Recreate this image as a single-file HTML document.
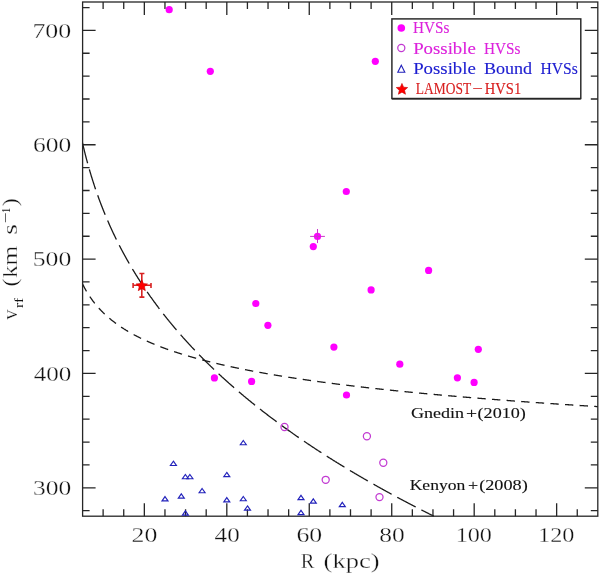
<!DOCTYPE html><html><head><meta charset="utf-8"><title>plot</title><style>html,body{margin:0;padding:0;background:#fff;}svg{display:block;}text{font-family:"Liberation Serif",serif;}</style></head><body>
<svg width="600" height="573" viewBox="0 0 600 573">
<rect width="600" height="573" fill="#fff"/>
<polyline points="82.50,142.91 82.84,144.40 83.19,145.87 83.53,147.33 83.88,148.76 84.22,150.18 84.56,151.57 84.91,152.96 85.25,154.32 85.59,155.67 85.94,157.00 86.28,158.31 86.63,159.61 86.97,160.90 87.31,162.17 87.66,163.43 88.00,164.67 88.34,165.91 88.69,167.12 89.03,168.33 89.38,169.52 89.72,170.71 90.06,171.88 90.41,173.03 90.75,174.18 91.10,175.32 91.44,176.44 91.78,177.56 92.13,178.66 92.47,179.76 92.81,180.85 93.16,181.92 93.50,182.99 93.85,184.05 94.19,185.09 94.53,186.13 94.88,187.17 95.22,188.19 95.56,189.20 95.91,190.21 96.25,191.21 96.60,192.20 96.94,193.18 97.28,194.16 97.63,195.13 97.97,196.09 98.32,197.04 98.66,197.99 99.00,198.93 99.35,199.86 99.69,200.79 100.03,201.70 100.38,202.62 100.72,203.53 101.07,204.43 101.41,205.32 101.75,206.21 102.10,207.09 102.44,207.97 102.78,208.84 103.13,209.71 103.47,210.57 103.82,211.42 104.16,212.27 104.50,213.11 104.85,213.95 105.19,214.79 105.54,215.61 105.88,216.44 106.22,217.26 106.57,218.07 106.91,218.88 107.25,219.68 107.60,220.48 107.94,221.28 108.29,222.07 108.63,222.85 108.97,223.63 109.32,224.41 109.66,225.18 110.01,225.95 110.35,226.72 110.69,227.48 111.04,228.23 111.38,228.99 111.72,229.73 112.07,230.48 112.41,231.22 112.76,231.96 113.10,232.69 113.44,233.42 113.79,234.14 114.13,234.87 114.47,235.58 114.82,236.30 115.16,237.01 115.51,237.72 115.85,238.42 116.19,239.12 116.54,239.82 116.88,240.51 117.23,241.20 117.57,241.89 117.91,242.58 118.26,243.26 118.60,243.94 118.94,244.61 119.29,245.28 119.63,245.95 119.98,246.62 120.32,247.28 120.66,247.94 121.01,248.60 121.35,249.25 121.69,249.91 122.04,250.55 122.38,251.20 122.73,251.84 123.07,252.48 123.41,253.12 123.76,253.76 124.10,254.39 124.45,255.02 124.79,255.65 125.13,256.27 125.48,256.89 125.82,257.51 126.16,258.13 126.51,258.75 126.85,259.36 127.20,259.97 127.54,260.58 127.88,261.18 128.23,261.78 128.57,262.38 128.91,262.98 129.26,263.58 129.60,264.17 129.95,264.76 130.29,265.35 130.63,265.94 130.98,266.52 131.32,267.11 131.67,267.69 132.01,268.27 132.35,268.84 132.70,269.42 133.04,269.99 133.38,270.56 133.73,271.13 134.07,271.69 134.42,272.26 134.76,272.82 135.10,273.38 135.45,273.94 135.79,274.49 136.13,275.05 136.48,275.60 136.82,276.15 137.17,276.70 137.51,277.24 137.85,277.79 138.20,278.33 138.54,278.87 138.89,279.41 139.23,279.95 139.57,280.49 139.92,281.02 140.26,281.55 140.60,282.08 140.95,282.61 141.29,283.14 141.64,283.66 141.98,284.19 142.32,284.71 142.67,285.23 143.01,285.75 143.35,286.27 143.70,286.78 144.04,287.30 144.39,287.81 144.73,288.32 145.07,288.83 145.42,289.34 145.76,289.84 146.11,290.35 146.45,290.85 146.79,291.35 147.14,291.85 147.48,292.35 147.82,292.85 148.17,293.35 148.51,293.84 148.86,294.33 149.20,294.83 149.54,295.32 149.89,295.80 150.23,296.29 150.57,296.78 150.92,297.26 151.26,297.74 151.61,298.23 151.95,298.71 152.29,299.19 152.64,299.66 152.98,300.14 153.33,300.61 153.67,301.09 154.01,301.56 154.36,302.03 154.70,302.50 155.04,302.97 155.39,303.44 155.73,303.90 156.08,304.37 156.42,304.83 156.76,305.29 157.11,305.76 157.45,306.22 157.79,306.67 158.14,307.13 158.48,307.59 158.83,308.04 159.17,308.50 159.51,308.95 159.86,309.40 160.20,309.85 160.55,310.30 160.89,310.75 161.23,311.20 161.58,311.64 161.92,312.09 162.26,312.53 162.61,312.97 162.95,313.41 163.30,313.85 163.64,314.29 163.98,314.73 164.33,315.17 164.67,315.60 165.02,316.04 165.36,316.47 165.70,316.90 166.05,317.34 166.39,317.77 166.73,318.20 167.08,318.62 167.42,319.05 167.77,319.48 168.11,319.90 168.45,320.33 168.80,320.75 169.14,321.17 169.48,321.60 169.83,322.02 170.17,322.44 170.52,322.85 170.86,323.27 171.20,323.69 171.55,324.10 171.89,324.52 172.24,324.93 172.58,325.35 172.92,325.76 173.27,326.17 173.61,326.58 173.95,326.99 174.30,327.40 174.64,327.80 174.99,328.21 175.33,328.62 175.67,329.02 176.02,329.42 176.36,329.83 176.70,330.23 177.05,330.63 177.39,331.03 177.74,331.43 178.08,331.83 178.42,332.23 178.77,332.62 179.11,333.02 179.46,333.41 179.80,333.81 180.14,334.20 180.49,334.59 180.83,334.98 181.17,335.38 181.52,335.77 181.86,336.16 182.21,336.54 182.55,336.93 182.89,337.32 183.24,337.70 183.58,338.09 183.92,338.47 184.27,338.86 184.61,339.24 184.96,339.62 185.30,340.00 185.64,340.38 185.99,340.76 186.33,341.14 186.68,341.52 187.02,341.90 187.36,342.28 187.71,342.65 188.05,343.03 188.39,343.40 188.74,343.77 189.08,344.15 189.43,344.52 189.77,344.89 190.11,345.26 190.46,345.63 190.80,346.00 191.14,346.37 191.49,346.74 191.83,347.11 192.18,347.47 192.52,347.84 192.86,348.20 193.21,348.57 193.55,348.93 193.90,349.29 194.24,349.66 194.58,350.02 194.93,350.38 195.27,350.74 195.61,351.10 195.96,351.46 196.30,351.82 196.65,352.17 196.99,352.53 197.33,352.89 197.68,353.24 198.02,353.60 198.36,353.95 198.71,354.31 199.05,354.66 199.40,355.01 199.74,355.36 200.08,355.71 200.43,356.06 200.77,356.41 201.12,356.76 201.46,357.11 201.80,357.46 202.15,357.81 202.49,358.15 202.83,358.50 203.18,358.85 203.52,359.19 203.87,359.53 204.21,359.88 204.55,360.22 204.90,360.56 205.24,360.91 205.58,361.25 205.93,361.59 206.27,361.93 206.62,362.27 206.96,362.61 207.30,362.94 207.65,363.28 207.99,363.62 208.34,363.96 208.68,364.29 209.02,364.63 209.37,364.96 209.71,365.30 210.05,365.63 210.40,365.96 210.74,366.30 211.09,366.63 211.43,366.96 211.77,367.29 212.12,367.62 212.46,367.95 212.80,368.28 213.15,368.61 213.49,368.94 213.84,369.26 214.18,369.59 214.52,369.92 214.87,370.24 215.21,370.57 215.56,370.90 215.90,371.22 216.24,371.54 216.59,371.87 216.93,372.19 217.27,372.51 217.62,372.83 217.96,373.16 218.31,373.48 218.65,373.80 218.99,374.12 219.34,374.44 219.68,374.76 220.03,375.07 220.37,375.39 220.71,375.71 221.06,376.03 221.40,376.34 221.74,376.66 222.09,376.97 222.43,377.29 222.78,377.60 223.12,377.92 223.46,378.23 223.81,378.54 224.15,378.85 224.49,379.17 224.84,379.48 225.18,379.79 225.53,380.10 225.87,380.41 226.21,380.72 226.56,381.03 226.90,381.34 227.25,381.65 227.59,381.95 227.93,382.26 228.28,382.57 228.62,382.87 228.96,383.18 229.31,383.48 229.65,383.79 230.00,384.09 230.34,384.40 230.68,384.70 231.03,385.00 231.37,385.31 231.71,385.61 232.06,385.91 232.40,386.21 232.75,386.51 233.09,386.81 233.43,387.11 233.78,387.41 234.12,387.71 234.47,388.01 234.81,388.31 235.15,388.61 235.50,388.91 235.84,389.20 236.18,389.50 236.53,389.80 236.87,390.09 237.22,390.39 237.56,390.68 237.90,390.98 238.25,391.27 238.59,391.56 238.93,391.86 239.28,392.15 239.62,392.44 239.97,392.73 240.31,393.03 240.65,393.32 241.00,393.61 241.34,393.90 241.69,394.19 242.03,394.48 242.37,394.77 242.72,395.06 243.06,395.34 243.40,395.63 243.75,395.92 244.09,396.21 244.44,396.49 244.78,396.78 245.12,397.07 245.47,397.35 245.81,397.64 246.15,397.92 246.50,398.21 246.84,398.49 247.19,398.78 247.53,399.06 247.87,399.34 248.22,399.62 248.56,399.91 248.91,400.19 249.25,400.47 249.59,400.75 249.94,401.03 250.28,401.31 250.62,401.59 250.97,401.87 251.31,402.15 251.66,402.43 252.00,402.71 252.34,402.99 252.69,403.26 253.03,403.54 253.37,403.82 253.72,404.10 254.06,404.37 254.41,404.65 254.75,404.92 255.09,405.20 255.44,405.47 255.78,405.75 256.13,406.02 256.47,406.30 256.81,406.57 257.16,406.84 257.50,407.12 257.84,407.39 258.19,407.66 258.53,407.93 258.88,408.20 259.22,408.47 259.56,408.74 259.91,409.02 260.25,409.29 260.59,409.56 260.94,409.82 261.28,410.09 261.63,410.36 261.97,410.63 262.31,410.90 262.66,411.17 263.00,411.43 263.35,411.70 263.69,411.97 264.03,412.23 264.38,412.50 264.72,412.77 265.06,413.03 265.41,413.30 265.75,413.56 266.10,413.83 266.44,414.09 266.78,414.35 267.13,414.62 267.47,414.88 267.81,415.14 268.16,415.41 268.50,415.67 268.85,415.93 269.19,416.19 269.53,416.45 269.88,416.71 270.22,416.97 270.57,417.23 270.91,417.49 271.25,417.75 271.60,418.01 271.94,418.27 272.28,418.53 272.63,418.79 272.97,419.05 273.32,419.31 273.66,419.56 274.00,419.82 274.35,420.08 274.69,420.33 275.04,420.59 275.38,420.85 275.72,421.10 276.07,421.36 276.41,421.61 276.75,421.87 277.10,422.12 277.44,422.38 277.79,422.63 278.13,422.88 278.47,423.14 278.82,423.39 279.16,423.64 279.50,423.90 279.85,424.15 280.19,424.40 280.54,424.65 280.88,424.90 281.22,425.15 281.57,425.41 281.91,425.66 282.26,425.91 282.60,426.16 282.94,426.41 283.29,426.65 283.63,426.90 283.97,427.15 284.32,427.40 284.66,427.65 285.01,427.90 285.35,428.15 285.69,428.39 286.04,428.64 286.38,428.89 286.72,429.13 287.07,429.38 287.41,429.63 287.76,429.87 288.10,430.12 288.44,430.36 288.79,430.61 289.13,430.85 289.48,431.10 289.82,431.34 290.16,431.58 290.51,431.83 290.85,432.07 291.19,432.32 291.54,432.56 291.88,432.80 292.23,433.04 292.57,433.28 292.91,433.53 293.26,433.77 293.60,434.01 293.94,434.25 294.29,434.49 294.63,434.73 294.98,434.97 295.32,435.21 295.66,435.45 296.01,435.69 296.35,435.93 296.70,436.17 297.04,436.41 297.38,436.65 297.73,436.89 298.07,437.12 298.41,437.36 298.76,437.60 299.10,437.84 299.45,438.07 299.79,438.31 300.13,438.55 300.48,438.78 300.82,439.02 301.16,439.25 301.51,439.49 301.85,439.72 302.20,439.96 302.54,440.19 302.88,440.43 303.23,440.66 303.57,440.90 303.92,441.13 304.26,441.36 304.60,441.60 304.95,441.83 305.29,442.06 305.63,442.30 305.98,442.53 306.32,442.76 306.67,442.99 307.01,443.22 307.35,443.46 307.70,443.69 308.04,443.92 308.38,444.15 308.73,444.38 309.07,444.61 309.42,444.84 309.76,445.07 310.10,445.30 310.45,445.53 310.79,445.76 311.14,445.99 311.48,446.21 311.82,446.44 312.17,446.67 312.51,446.90 312.85,447.13 313.20,447.35 313.54,447.58 313.89,447.81 314.23,448.04 314.57,448.26 314.92,448.49 315.26,448.72 315.60,448.94 315.95,449.17 316.29,449.39 316.64,449.62 316.98,449.84 317.32,450.07 317.67,450.29 318.01,450.52 318.36,450.74 318.70,450.96 319.04,451.19 319.39,451.41 319.73,451.64 320.07,451.86 320.42,452.08 320.76,452.30 321.11,452.53 321.45,452.75 321.79,452.97 322.14,453.19 322.48,453.41 322.82,453.64 323.17,453.86 323.51,454.08 323.86,454.30 324.20,454.52 324.54,454.74 324.89,454.96 325.23,455.18 325.58,455.40 325.92,455.62 326.26,455.84 326.61,456.06 326.95,456.28 327.29,456.49 327.64,456.71 327.98,456.93 328.33,457.15 328.67,457.37 329.01,457.59 329.36,457.80 329.70,458.02 330.05,458.24 330.39,458.45 330.73,458.67 331.08,458.89 331.42,459.10 331.76,459.32 332.11,459.54 332.45,459.75 332.80,459.97 333.14,460.18 333.48,460.40 333.83,460.61 334.17,460.83 334.51,461.04 334.86,461.25 335.20,461.47 335.55,461.68 335.89,461.90 336.23,462.11 336.58,462.32 336.92,462.54 337.27,462.75 337.61,462.96 337.95,463.17 338.30,463.39 338.64,463.60 338.98,463.81 339.33,464.02 339.67,464.23 340.02,464.45 340.36,464.66 340.70,464.87 341.05,465.08 341.39,465.29 341.73,465.50 342.08,465.71 342.42,465.92 342.77,466.13 343.11,466.34 343.45,466.55 343.80,466.76 344.14,466.97 344.49,467.18 344.83,467.39 345.17,467.59 345.52,467.80 345.86,468.01 346.20,468.22 346.55,468.43 346.89,468.63 347.24,468.84 347.58,469.05 347.92,469.26 348.27,469.46 348.61,469.67 348.95,469.88 349.30,470.08 349.64,470.29 349.99,470.50 350.33,470.70 350.67,470.91 351.02,471.11 351.36,471.32 351.71,471.52 352.05,471.73 352.39,471.93 352.74,472.14 353.08,472.34 353.42,472.55 353.77,472.75 354.11,472.95 354.46,473.16 354.80,473.36 355.14,473.57 355.49,473.77 355.83,473.97 356.17,474.17 356.52,474.38 356.86,474.58 357.21,474.78 357.55,474.98 357.89,475.19 358.24,475.39 358.58,475.59 358.93,475.79 359.27,475.99 359.61,476.19 359.96,476.40 360.30,476.60 360.64,476.80 360.99,477.00 361.33,477.20 361.68,477.40 362.02,477.60 362.36,477.80 362.71,478.00 363.05,478.20 363.39,478.40 363.74,478.60 364.08,478.80 364.43,478.99 364.77,479.19 365.11,479.39 365.46,479.59 365.80,479.79 366.15,479.99 366.49,480.18 366.83,480.38 367.18,480.58 367.52,480.78 367.86,480.97 368.21,481.17 368.55,481.37 368.90,481.56 369.24,481.76 369.58,481.96 369.93,482.15 370.27,482.35 370.61,482.55 370.96,482.74 371.30,482.94 371.65,483.13 371.99,483.33 372.33,483.52 372.68,483.72 373.02,483.91 373.37,484.11 373.71,484.30 374.05,484.50 374.40,484.69 374.74,484.89 375.08,485.08 375.43,485.27 375.77,485.47 376.12,485.66 376.46,485.85 376.80,486.05 377.15,486.24 377.49,486.43 377.83,486.63 378.18,486.82 378.52,487.01 378.87,487.20 379.21,487.40 379.55,487.59 379.90,487.78 380.24,487.97 380.59,488.16 380.93,488.35 381.27,488.55 381.62,488.74 381.96,488.93 382.30,489.12 382.65,489.31 382.99,489.50 383.34,489.69 383.68,489.88 384.02,490.07 384.37,490.26 384.71,490.45 385.06,490.64 385.40,490.83 385.74,491.02 386.09,491.21 386.43,491.40 386.77,491.58 387.12,491.77 387.46,491.96 387.81,492.15 388.15,492.34 388.49,492.53 388.84,492.71 389.18,492.90 389.52,493.09 389.87,493.28 390.21,493.47 390.56,493.65 390.90,493.84 391.24,494.03 391.59,494.21 391.93,494.40 392.28,494.59 392.62,494.77 392.96,494.96 393.31,495.15 393.65,495.33 393.99,495.52 394.34,495.70 394.68,495.89 395.03,496.07 395.37,496.26 395.71,496.44 396.06,496.63 396.40,496.81 396.74,497.00 397.09,497.18 397.43,497.37 397.78,497.55 398.12,497.74 398.46,497.92 398.81,498.11 399.15,498.29 399.50,498.47 399.84,498.66 400.18,498.84 400.53,499.02 400.87,499.21 401.21,499.39 401.56,499.57 401.90,499.75 402.25,499.94 402.59,500.12 402.93,500.30 403.28,500.48 403.62,500.67 403.96,500.85 404.31,501.03 404.65,501.21 405.00,501.39 405.34,501.57 405.68,501.76 406.03,501.94 406.37,502.12 406.72,502.30 407.06,502.48 407.40,502.66 407.75,502.84 408.09,503.02 408.43,503.20 408.78,503.38 409.12,503.56 409.47,503.74 409.81,503.92 410.15,504.10 410.50,504.28 410.84,504.46 411.18,504.64 411.53,504.82 411.87,505.00 412.22,505.18 412.56,505.35 412.90,505.53 413.25,505.71 413.59,505.89 413.94,506.07 414.28,506.25 414.62,506.42 414.97,506.60 415.31,506.78 415.65,506.96 416.00,507.13 416.34,507.31 416.69,507.49 417.03,507.67 417.37,507.84 417.72,508.02 418.06,508.20 418.40,508.37 418.75,508.55 419.09,508.73 419.44,508.90 419.78,509.08 420.12,509.25 420.47,509.43 420.81,509.60 421.16,509.78 421.50,509.96 421.84,510.13 422.19,510.31 422.53,510.48 422.87,510.66 423.22,510.83 423.56,511.01 423.91,511.18 424.25,511.36 424.59,511.53 424.94,511.70 425.28,511.88 425.62,512.05 425.97,512.23 426.31,512.40 426.66,512.57 427.00,512.75 427.34,512.92 427.69,513.09 428.03,513.27 428.38,513.44 428.72,513.61 429.06,513.79 429.41,513.96 429.75,514.13 430.09,514.30 430.44,514.48 430.78,514.65 431.13,514.82 431.47,514.99 431.81,515.16 432.16,515.34 432.50,515.51 432.84,515.68 433.19,515.85 433.53,516.02 433.88,516.19" fill="none" stroke="#1a1a1a" stroke-width="1.3" stroke-dasharray="20.9 6.324" stroke-dashoffset="-0.06"/>
<polyline points="82.50,283.84 82.84,284.54 83.19,285.23 83.53,285.91 83.88,286.58 84.22,287.23 84.56,287.88 84.91,288.51 85.25,289.14 85.59,289.75 85.94,290.36 86.28,290.95 86.63,291.54 86.97,292.12 87.31,292.69 87.66,293.25 88.00,293.81 88.34,294.35 88.69,294.89 89.03,295.42 89.38,295.95 89.72,296.47 90.06,296.98 90.41,297.48 90.75,297.98 91.10,298.47 91.44,298.95 91.78,299.43 92.13,299.91 92.47,300.37 92.81,300.83 93.16,301.29 93.50,301.74 93.85,302.19 94.19,302.63 94.53,303.06 94.88,303.50 95.22,303.92 95.56,304.34 95.91,304.76 96.25,305.17 96.60,305.58 96.94,305.98 97.28,306.38 97.63,306.78 97.97,307.17 98.32,307.56 98.66,307.94 99.00,308.32 99.35,308.69 99.69,309.07 100.03,309.43 100.38,309.80 100.72,310.16 101.07,310.52 101.41,310.87 101.75,311.22 102.10,311.57 102.44,311.92 102.78,312.26 103.13,312.60 103.47,312.93 103.82,313.27 104.16,313.60 104.50,313.92 104.85,314.25 105.19,314.57 105.54,314.89 105.88,315.20 106.22,315.52 106.57,315.83 106.91,316.14 107.25,316.44 107.60,316.74 107.94,317.04 108.29,317.34 108.63,317.64 108.97,317.93 109.32,318.22 109.66,318.51 110.01,318.80 110.35,319.08 110.69,319.37 111.04,319.65 111.38,319.93 111.72,320.20 112.07,320.48 112.41,320.75 112.76,321.02 113.10,321.29 113.44,321.55 113.79,321.82 114.13,322.08 114.47,322.34 114.82,322.60 115.16,322.86 115.51,323.11 115.85,323.36 116.19,323.62 116.54,323.87 116.88,324.12 117.23,324.36 117.57,324.61 117.91,324.85 118.26,325.09 118.60,325.33 118.94,325.57 119.29,325.81 119.63,326.04 119.98,326.28 120.32,326.51 120.66,326.74 121.01,326.97 121.35,327.20 121.69,327.43 122.04,327.65 122.38,327.88 122.73,328.10 123.07,328.32 123.41,328.54 123.76,328.76 124.10,328.98 124.45,329.19 124.79,329.41 125.13,329.62 125.48,329.83 125.82,330.05 126.16,330.26 126.51,330.46 126.85,330.67 127.20,330.88 127.54,331.08 127.88,331.29 128.23,331.49 128.57,331.69 128.91,331.89 129.26,332.09 129.60,332.29 129.95,332.49 130.29,332.68 130.63,332.88 130.98,333.07 131.32,333.27 131.67,333.46 132.01,333.65 132.35,333.84 132.70,334.03 133.04,334.22 133.38,334.40 133.73,334.59 134.07,334.78 134.42,334.96 134.76,335.14 135.10,335.33 135.45,335.51 135.79,335.69 136.13,335.87 136.48,336.05 136.82,336.22 137.17,336.40 137.51,336.58 137.85,336.75 138.20,336.93 138.54,337.10 138.89,337.27 139.23,337.45 139.57,337.62 139.92,337.79 140.26,337.96 140.60,338.13 140.95,338.29 141.29,338.46 141.64,338.63 141.98,338.79 142.32,338.96 142.67,339.12 143.01,339.29 143.35,339.45 143.70,339.61 144.04,339.77 144.39,339.93 144.73,340.09 145.07,340.25 145.42,340.41 145.76,340.57 146.11,340.72 146.45,340.88 146.79,341.03 147.14,341.19 147.48,341.34 147.82,341.50 148.17,341.65 148.51,341.80 148.86,341.95 149.20,342.10 149.54,342.25 149.89,342.40 150.23,342.55 150.57,342.70 150.92,342.85 151.26,343.00 151.61,343.14 151.95,343.29 152.29,343.43 152.64,343.58 152.98,343.72 153.33,343.87 153.67,344.01 154.01,344.15 154.36,344.29 154.70,344.43 155.04,344.58 155.39,344.72 155.73,344.85 156.08,344.99 156.42,345.13 156.76,345.27 157.11,345.41 157.45,345.54 157.79,345.68 158.14,345.82 158.48,345.95 158.83,346.09 159.17,346.22 159.51,346.35 159.86,346.49 160.20,346.62 160.55,346.75 160.89,346.88 161.23,347.02 161.58,347.15 161.92,347.28 162.26,347.41 162.61,347.54 162.95,347.66 163.30,347.79 163.64,347.92 163.98,348.05 164.33,348.18 164.67,348.30 165.02,348.43 165.36,348.55 165.70,348.68 166.05,348.80 166.39,348.93 166.73,349.05 167.08,349.17 167.42,349.30 167.77,349.42 168.11,349.54 168.45,349.66 168.80,349.79 169.14,349.91 169.48,350.03 169.83,350.15 170.17,350.27 170.52,350.39 170.86,350.50 171.20,350.62 171.55,350.74 171.89,350.86 172.24,350.97 172.58,351.09 172.92,351.21 173.27,351.32 173.61,351.44 173.95,351.55 174.30,351.67 174.64,351.78 174.99,351.90 175.33,352.01 175.67,352.13 176.02,352.24 176.36,352.35 176.70,352.46 177.05,352.58 177.39,352.69 177.74,352.80 178.08,352.91 178.42,353.02 178.77,353.13 179.11,353.24 179.46,353.35 179.80,353.46 180.14,353.57 180.49,353.67 180.83,353.78 181.17,353.89 181.52,354.00 181.86,354.10 182.21,354.21 182.55,354.32 182.89,354.42 183.24,354.53 183.58,354.63 183.92,354.74 184.27,354.84 184.61,354.95 184.96,355.05 185.30,355.16 185.64,355.26 185.99,355.36 186.33,355.47 186.68,355.57 187.02,355.67 187.36,355.77 187.71,355.88 188.05,355.98 188.39,356.08 188.74,356.18 189.08,356.28 189.43,356.38 189.77,356.48 190.11,356.58 190.46,356.68 190.80,356.78 191.14,356.88 191.49,356.97 191.83,357.07 192.18,357.17 192.52,357.27 192.86,357.37 193.21,357.46 193.55,357.56 193.90,357.66 194.24,357.75 194.58,357.85 194.93,357.94 195.27,358.04 195.61,358.13 195.96,358.23 196.30,358.32 196.65,358.42 196.99,358.51 197.33,358.61 197.68,358.70 198.02,358.79 198.36,358.89 198.71,358.98 199.05,359.07 199.40,359.16 199.74,359.26 200.08,359.35 200.43,359.44 200.77,359.53 201.12,359.62 201.46,359.71 201.80,359.80 202.15,359.89 202.49,359.98 202.83,360.07 203.18,360.16 203.52,360.25 203.87,360.34 204.21,360.43 204.55,360.52 204.90,360.61 205.24,360.70 205.58,360.79 205.93,360.87 206.27,360.96 206.62,361.05 206.96,361.14 207.30,361.22 207.65,361.31 207.99,361.40 208.34,361.48 208.68,361.57 209.02,361.65 209.37,361.74 209.71,361.83 210.05,361.91 210.40,362.00 210.74,362.08 211.09,362.16 211.43,362.25 211.77,362.33 212.12,362.42 212.46,362.50 212.80,362.58 213.15,362.67 213.49,362.75 213.84,362.83 214.18,362.92 214.52,363.00 214.87,363.08 215.21,363.16 215.56,363.25 215.90,363.33 216.24,363.41 216.59,363.49 216.93,363.57 217.27,363.65 217.62,363.73 217.96,363.81 218.31,363.89 218.65,363.97 218.99,364.05 219.34,364.13 219.68,364.21 220.03,364.29 220.37,364.37 220.71,364.45 221.06,364.53 221.40,364.61 221.74,364.69 222.09,364.76 222.43,364.84 222.78,364.92 223.12,365.00 223.46,365.08 223.81,365.15 224.15,365.23 224.49,365.31 224.84,365.38 225.18,365.46 225.53,365.54 225.87,365.61 226.21,365.69 226.56,365.77 226.90,365.84 227.25,365.92 227.59,365.99 227.93,366.07 228.28,366.14 228.62,366.22 228.96,366.29 229.31,366.37 229.65,366.44 230.00,366.52 230.34,366.59 230.68,366.67 231.03,366.74 231.37,366.81 231.71,366.89 232.06,366.96 232.40,367.03 232.75,367.11 233.09,367.18 233.43,367.25 233.78,367.32 234.12,367.40 234.47,367.47 234.81,367.54 235.15,367.61 235.50,367.68 235.84,367.76 236.18,367.83 236.53,367.90 236.87,367.97 237.22,368.04 237.56,368.11 237.90,368.18 238.25,368.25 238.59,368.32 238.93,368.39 239.28,368.46 239.62,368.53 239.97,368.60 240.31,368.67 240.65,368.74 241.00,368.81 241.34,368.88 241.69,368.95 242.03,369.02 242.37,369.09 242.72,369.16 243.06,369.23 243.40,369.29 243.75,369.36 244.09,369.43 244.44,369.50 244.78,369.57 245.12,369.63 245.47,369.70 245.81,369.77 246.15,369.84 246.50,369.90 246.84,369.97 247.19,370.04 247.53,370.10 247.87,370.17 248.22,370.24 248.56,370.30 248.91,370.37 249.25,370.44 249.59,370.50 249.94,370.57 250.28,370.63 250.62,370.70 250.97,370.76 251.31,370.83 251.66,370.89 252.00,370.96 252.34,371.02 252.69,371.09 253.03,371.15 253.37,371.22 253.72,371.28 254.06,371.35 254.41,371.41 254.75,371.48 255.09,371.54 255.44,371.60 255.78,371.67 256.13,371.73 256.47,371.79 256.81,371.86 257.16,371.92 257.50,371.98 257.84,372.05 258.19,372.11 258.53,372.17 258.88,372.23 259.22,372.30 259.56,372.36 259.91,372.42 260.25,372.48 260.59,372.55 260.94,372.61 261.28,372.67 261.63,372.73 261.97,372.79 262.31,372.85 262.66,372.92 263.00,372.98 263.35,373.04 263.69,373.10 264.03,373.16 264.38,373.22 264.72,373.28 265.06,373.34 265.41,373.40 265.75,373.46 266.10,373.52 266.44,373.58 266.78,373.64 267.13,373.70 267.47,373.76 267.81,373.82 268.16,373.88 268.50,373.94 268.85,374.00 269.19,374.06 269.53,374.12 269.88,374.18 270.22,374.24 270.57,374.30 270.91,374.35 271.25,374.41 271.60,374.47 271.94,374.53 272.28,374.59 272.63,374.65 272.97,374.70 273.32,374.76 273.66,374.82 274.00,374.88 274.35,374.94 274.69,374.99 275.04,375.05 275.38,375.11 275.72,375.17 276.07,375.22 276.41,375.28 276.75,375.34 277.10,375.39 277.44,375.45 277.79,375.51 278.13,375.56 278.47,375.62 278.82,375.68 279.16,375.73 279.50,375.79 279.85,375.84 280.19,375.90 280.54,375.96 280.88,376.01 281.22,376.07 281.57,376.12 281.91,376.18 282.26,376.23 282.60,376.29 282.94,376.35 283.29,376.40 283.63,376.46 283.97,376.51 284.32,376.57 284.66,376.62 285.01,376.67 285.35,376.73 285.69,376.78 286.04,376.84 286.38,376.89 286.72,376.95 287.07,377.00 287.41,377.06 287.76,377.11 288.10,377.16 288.44,377.22 288.79,377.27 289.13,377.32 289.48,377.38 289.82,377.43 290.16,377.48 290.51,377.54 290.85,377.59 291.19,377.64 291.54,377.70 291.88,377.75 292.23,377.80 292.57,377.86 292.91,377.91 293.26,377.96 293.60,378.01 293.94,378.07 294.29,378.12 294.63,378.17 294.98,378.22 295.32,378.27 295.66,378.33 296.01,378.38 296.35,378.43 296.70,378.48 297.04,378.53 297.38,378.59 297.73,378.64 298.07,378.69 298.41,378.74 298.76,378.79 299.10,378.84 299.45,378.89 299.79,378.94 300.13,378.99 300.48,379.05 300.82,379.10 301.16,379.15 301.51,379.20 301.85,379.25 302.20,379.30 302.54,379.35 302.88,379.40 303.23,379.45 303.57,379.50 303.92,379.55 304.26,379.60 304.60,379.65 304.95,379.70 305.29,379.75 305.63,379.80 305.98,379.85 306.32,379.90 306.67,379.95 307.01,380.00 307.35,380.05 307.70,380.10 308.04,380.14 308.38,380.19 308.73,380.24 309.07,380.29 309.42,380.34 309.76,380.39 310.10,380.44 310.45,380.49 310.79,380.54 311.14,380.58 311.48,380.63 311.82,380.68 312.17,380.73 312.51,380.78 312.85,380.83 313.20,380.87 313.54,380.92 313.89,380.97 314.23,381.02 314.57,381.07 314.92,381.11 315.26,381.16 315.60,381.21 315.95,381.26 316.29,381.30 316.64,381.35 316.98,381.40 317.32,381.44 317.67,381.49 318.01,381.54 318.36,381.59 318.70,381.63 319.04,381.68 319.39,381.73 319.73,381.77 320.07,381.82 320.42,381.87 320.76,381.91 321.11,381.96 321.45,382.01 321.79,382.05 322.14,382.10 322.48,382.15 322.82,382.19 323.17,382.24 323.51,382.28 323.86,382.33 324.20,382.38 324.54,382.42 324.89,382.47 325.23,382.51 325.58,382.56 325.92,382.60 326.26,382.65 326.61,382.69 326.95,382.74 327.29,382.79 327.64,382.83 327.98,382.88 328.33,382.92 328.67,382.97 329.01,383.01 329.36,383.06 329.70,383.10 330.05,383.15 330.39,383.19 330.73,383.23 331.08,383.28 331.42,383.32 331.76,383.37 332.11,383.41 332.45,383.46 332.80,383.50 333.14,383.55 333.48,383.59 333.83,383.63 334.17,383.68 334.51,383.72 334.86,383.77 335.20,383.81 335.55,383.85 335.89,383.90 336.23,383.94 336.58,383.99 336.92,384.03 337.27,384.07 337.61,384.12 337.95,384.16 338.30,384.20 338.64,384.25 338.98,384.29 339.33,384.33 339.67,384.38 340.02,384.42 340.36,384.46 340.70,384.50 341.05,384.55 341.39,384.59 341.73,384.63 342.08,384.68 342.42,384.72 342.77,384.76 343.11,384.80 343.45,384.85 343.80,384.89 344.14,384.93 344.49,384.97 344.83,385.02 345.17,385.06 345.52,385.10 345.86,385.14 346.20,385.18 346.55,385.23 346.89,385.27 347.24,385.31 347.58,385.35 347.92,385.39 348.27,385.43 348.61,385.48 348.95,385.52 349.30,385.56 349.64,385.60 349.99,385.64 350.33,385.68 350.67,385.73 351.02,385.77 351.36,385.81 351.71,385.85 352.05,385.89 352.39,385.93 352.74,385.97 353.08,386.01 353.42,386.05 353.77,386.10 354.11,386.14 354.46,386.18 354.80,386.22 355.14,386.26 355.49,386.30 355.83,386.34 356.17,386.38 356.52,386.42 356.86,386.46 357.21,386.50 357.55,386.54 357.89,386.58 358.24,386.62 358.58,386.66 358.93,386.70 359.27,386.74 359.61,386.78 359.96,386.82 360.30,386.86 360.64,386.90 360.99,386.94 361.33,386.98 361.68,387.02 362.02,387.06 362.36,387.10 362.71,387.14 363.05,387.18 363.39,387.22 363.74,387.26 364.08,387.30 364.43,387.34 364.77,387.38 365.11,387.42 365.46,387.45 365.80,387.49 366.15,387.53 366.49,387.57 366.83,387.61 367.18,387.65 367.52,387.69 367.86,387.73 368.21,387.77 368.55,387.80 368.90,387.84 369.24,387.88 369.58,387.92 369.93,387.96 370.27,388.00 370.61,388.04 370.96,388.07 371.30,388.11 371.65,388.15 371.99,388.19 372.33,388.23 372.68,388.27 373.02,388.30 373.37,388.34 373.71,388.38 374.05,388.42 374.40,388.46 374.74,388.49 375.08,388.53 375.43,388.57 375.77,388.61 376.12,388.64 376.46,388.68 376.80,388.72 377.15,388.76 377.49,388.80 377.83,388.83 378.18,388.87 378.52,388.91 378.87,388.94 379.21,388.98 379.55,389.02 379.90,389.06 380.24,389.09 380.59,389.13 380.93,389.17 381.27,389.21 381.62,389.24 381.96,389.28 382.30,389.32 382.65,389.35 382.99,389.39 383.34,389.43 383.68,389.46 384.02,389.50 384.37,389.54 384.71,389.57 385.06,389.61 385.40,389.65 385.74,389.68 386.09,389.72 386.43,389.76 386.77,389.79 387.12,389.83 387.46,389.86 387.81,389.90 388.15,389.94 388.49,389.97 388.84,390.01 389.18,390.05 389.52,390.08 389.87,390.12 390.21,390.15 390.56,390.19 390.90,390.23 391.24,390.26 391.59,390.30 391.93,390.33 392.28,390.37 392.62,390.40 392.96,390.44 393.31,390.48 393.65,390.51 393.99,390.55 394.34,390.58 394.68,390.62 395.03,390.65 395.37,390.69 395.71,390.72 396.06,390.76 396.40,390.79 396.74,390.83 397.09,390.86 397.43,390.90 397.78,390.93 398.12,390.97 398.46,391.00 398.81,391.04 399.15,391.07 399.50,391.11 399.84,391.14 400.18,391.18 400.53,391.21 400.87,391.25 401.21,391.28 401.56,391.32 401.90,391.35 402.25,391.39 402.59,391.42 402.93,391.46 403.28,391.49 403.62,391.53 403.96,391.56 404.31,391.59 404.65,391.63 405.00,391.66 405.34,391.70 405.68,391.73 406.03,391.77 406.37,391.80 406.72,391.83 407.06,391.87 407.40,391.90 407.75,391.94 408.09,391.97 408.43,392.00 408.78,392.04 409.12,392.07 409.47,392.10 409.81,392.14 410.15,392.17 410.50,392.21 410.84,392.24 411.18,392.27 411.53,392.31 411.87,392.34 412.22,392.37 412.56,392.41 412.90,392.44 413.25,392.47 413.59,392.51 413.94,392.54 414.28,392.57 414.62,392.61 414.97,392.64 415.31,392.67 415.65,392.71 416.00,392.74 416.34,392.77 416.69,392.81 417.03,392.84 417.37,392.87 417.72,392.91 418.06,392.94 418.40,392.97 418.75,393.00 419.09,393.04 419.44,393.07 419.78,393.10 420.12,393.14 420.47,393.17 420.81,393.20 421.16,393.23 421.50,393.27 421.84,393.30 422.19,393.33 422.53,393.36 422.87,393.40 423.22,393.43 423.56,393.46 423.91,393.49 424.25,393.53 424.59,393.56 424.94,393.59 425.28,393.62 425.62,393.65 425.97,393.69 426.31,393.72 426.66,393.75 427.00,393.78 427.34,393.81 427.69,393.85 428.03,393.88 428.38,393.91 428.72,393.94 429.06,393.97 429.41,394.01 429.75,394.04 430.09,394.07 430.44,394.10 430.78,394.13 431.13,394.16 431.47,394.20 431.81,394.23 432.16,394.26 432.50,394.29 432.84,394.32 433.19,394.35 433.53,394.38 433.88,394.42 434.22,394.45 434.56,394.48 434.91,394.51 435.25,394.54 435.60,394.57 435.94,394.60 436.28,394.64 436.63,394.67 436.97,394.70 437.31,394.73 437.66,394.76 438.00,394.79 438.35,394.82 438.69,394.85 439.03,394.88 439.38,394.91 439.72,394.95 440.07,394.98 440.41,395.01 440.75,395.04 441.10,395.07 441.44,395.10 441.78,395.13 442.13,395.16 442.47,395.19 442.82,395.22 443.16,395.25 443.50,395.28 443.85,395.31 444.19,395.34 444.53,395.37 444.88,395.40 445.22,395.44 445.57,395.47 445.91,395.50 446.25,395.53 446.60,395.56 446.94,395.59 447.29,395.62 447.63,395.65 447.97,395.68 448.32,395.71 448.66,395.74 449.00,395.77 449.35,395.80 449.69,395.83 450.04,395.86 450.38,395.89 450.72,395.92 451.07,395.95 451.41,395.98 451.75,396.01 452.10,396.04 452.44,396.07 452.79,396.10 453.13,396.13 453.47,396.16 453.82,396.19 454.16,396.22 454.51,396.24 454.85,396.27 455.19,396.30 455.54,396.33 455.88,396.36 456.22,396.39 456.57,396.42 456.91,396.45 457.26,396.48 457.60,396.51 457.94,396.54 458.29,396.57 458.63,396.60 458.97,396.63 459.32,396.66 459.66,396.69 460.01,396.71 460.35,396.74 460.69,396.77 461.04,396.80 461.38,396.83 461.73,396.86 462.07,396.89 462.41,396.92 462.76,396.95 463.10,396.98 463.44,397.00 463.79,397.03 464.13,397.06 464.48,397.09 464.82,397.12 465.16,397.15 465.51,397.18 465.85,397.21 466.19,397.23 466.54,397.26 466.88,397.29 467.23,397.32 467.57,397.35 467.91,397.38 468.26,397.41 468.60,397.43 468.95,397.46 469.29,397.49 469.63,397.52 469.98,397.55 470.32,397.58 470.66,397.61 471.01,397.63 471.35,397.66 471.70,397.69 472.04,397.72 472.38,397.75 472.73,397.77 473.07,397.80 473.41,397.83 473.76,397.86 474.10,397.89 474.45,397.92 474.79,397.94 475.13,397.97 475.48,398.00 475.82,398.03 476.17,398.06 476.51,398.08 476.85,398.11 477.20,398.14 477.54,398.17 477.88,398.19 478.23,398.22 478.57,398.25 478.92,398.28 479.26,398.31 479.60,398.33 479.95,398.36 480.29,398.39 480.63,398.42 480.98,398.44 481.32,398.47 481.67,398.50 482.01,398.53 482.35,398.55 482.70,398.58 483.04,398.61 483.39,398.64 483.73,398.66 484.07,398.69 484.42,398.72 484.76,398.75 485.10,398.77 485.45,398.80 485.79,398.83 486.14,398.85 486.48,398.88 486.82,398.91 487.17,398.94 487.51,398.96 487.85,398.99 488.20,399.02 488.54,399.04 488.89,399.07 489.23,399.10 489.57,399.13 489.92,399.15 490.26,399.18 490.61,399.21 490.95,399.23 491.29,399.26 491.64,399.29 491.98,399.31 492.32,399.34 492.67,399.37 493.01,399.39 493.36,399.42 493.70,399.45 494.04,399.47 494.39,399.50 494.73,399.53 495.08,399.55 495.42,399.58 495.76,399.61 496.11,399.63 496.45,399.66 496.79,399.69 497.14,399.71 497.48,399.74 497.83,399.77 498.17,399.79 498.51,399.82 498.86,399.84 499.20,399.87 499.54,399.90 499.89,399.92 500.23,399.95 500.58,399.98 500.92,400.00 501.26,400.03 501.61,400.05 501.95,400.08 502.30,400.11 502.64,400.13 502.98,400.16 503.33,400.19 503.67,400.21 504.01,400.24 504.36,400.26 504.70,400.29 505.05,400.32 505.39,400.34 505.73,400.37 506.08,400.39 506.42,400.42 506.76,400.44 507.11,400.47 507.45,400.50 507.80,400.52 508.14,400.55 508.48,400.57 508.83,400.60 509.17,400.62 509.52,400.65 509.86,400.68 510.20,400.70 510.55,400.73 510.89,400.75 511.23,400.78 511.58,400.80 511.92,400.83 512.27,400.86 512.61,400.88 512.95,400.91 513.30,400.93 513.64,400.96 513.98,400.98 514.33,401.01 514.67,401.03 515.02,401.06 515.36,401.08 515.70,401.11 516.05,401.13 516.39,401.16 516.74,401.18 517.08,401.21 517.42,401.24 517.77,401.26 518.11,401.29 518.45,401.31 518.80,401.34 519.14,401.36 519.49,401.39 519.83,401.41 520.17,401.44 520.52,401.46 520.86,401.49 521.20,401.51 521.55,401.54 521.89,401.56 522.24,401.59 522.58,401.61 522.92,401.64 523.27,401.66 523.61,401.68 523.96,401.71 524.30,401.73 524.64,401.76 524.99,401.78 525.33,401.81 525.67,401.83 526.02,401.86 526.36,401.88 526.71,401.91 527.05,401.93 527.39,401.96 527.74,401.98 528.08,402.01 528.42,402.03 528.77,402.05 529.11,402.08 529.46,402.10 529.80,402.13 530.14,402.15 530.49,402.18 530.83,402.20 531.18,402.23 531.52,402.25 531.86,402.27 532.21,402.30 532.55,402.32 532.89,402.35 533.24,402.37 533.58,402.40 533.93,402.42 534.27,402.44 534.61,402.47 534.96,402.49 535.30,402.52 535.64,402.54 535.99,402.57 536.33,402.59 536.68,402.61 537.02,402.64 537.36,402.66 537.71,402.69 538.05,402.71 538.40,402.73 538.74,402.76 539.08,402.78 539.43,402.81 539.77,402.83 540.11,402.85 540.46,402.88 540.80,402.90 541.15,402.92 541.49,402.95 541.83,402.97 542.18,403.00 542.52,403.02 542.86,403.04 543.21,403.07 543.55,403.09 543.90,403.11 544.24,403.14 544.58,403.16 544.93,403.19 545.27,403.21 545.62,403.23 545.96,403.26 546.30,403.28 546.65,403.30 546.99,403.33 547.33,403.35 547.68,403.37 548.02,403.40 548.37,403.42 548.71,403.44 549.05,403.47 549.40,403.49 549.74,403.51 550.09,403.54 550.43,403.56 550.77,403.58 551.12,403.61 551.46,403.63 551.80,403.65 552.15,403.68 552.49,403.70 552.84,403.72 553.18,403.75 553.52,403.77 553.87,403.79 554.21,403.82 554.55,403.84 554.90,403.86 555.24,403.89 555.59,403.91 555.93,403.93 556.27,403.96 556.62,403.98 556.96,404.00 557.31,404.02 557.65,404.05 557.99,404.07 558.34,404.09 558.68,404.12 559.02,404.14 559.37,404.16 559.71,404.18 560.06,404.21 560.40,404.23 560.74,404.25 561.09,404.28 561.43,404.30 561.77,404.32 562.12,404.34 562.46,404.37 562.81,404.39 563.15,404.41 563.49,404.43 563.84,404.46 564.18,404.48 564.53,404.50 564.87,404.53 565.21,404.55 565.56,404.57 565.90,404.59 566.24,404.62 566.59,404.64 566.93,404.66 567.28,404.68 567.62,404.71 567.96,404.73 568.31,404.75 568.65,404.77 568.99,404.80 569.34,404.82 569.68,404.84 570.03,404.86 570.37,404.88 570.71,404.91 571.06,404.93 571.40,404.95 571.75,404.97 572.09,405.00 572.43,405.02 572.78,405.04 573.12,405.06 573.46,405.09 573.81,405.11 574.15,405.13 574.50,405.15 574.84,405.17 575.18,405.20 575.53,405.22 575.87,405.24 576.21,405.26 576.56,405.28 576.90,405.31 577.25,405.33 577.59,405.35 577.93,405.37 578.28,405.39 578.62,405.42 578.97,405.44 579.31,405.46 579.65,405.48 580.00,405.50 580.34,405.53 580.68,405.55 581.03,405.57 581.37,405.59 581.72,405.61 582.06,405.63 582.40,405.66 582.75,405.68 583.09,405.70 583.43,405.72 583.78,405.74 584.12,405.77 584.47,405.79 584.81,405.81 585.15,405.83 585.50,405.85 585.84,405.87 586.19,405.90 586.53,405.92 586.87,405.94 587.22,405.96 587.56,405.98 587.90,406.00 588.25,406.02 588.59,406.05 588.94,406.07 589.28,406.09 589.62,406.11 589.97,406.13 590.31,406.15 590.65,406.17 591.00,406.20 591.34,406.22 591.69,406.24 592.03,406.26 592.37,406.28 592.72,406.30 593.06,406.32 593.41,406.35 593.75,406.37 594.09,406.39 594.44,406.41 594.78,406.43 595.12,406.45 595.47,406.47 595.81,406.49 596.16,406.52 596.50,406.54 596.84,406.56 597.19,406.58 597.53,406.60 597.88,406.62" fill="none" stroke="#1a1a1a" stroke-width="1.3" stroke-dasharray="8.4 6.242" stroke-dashoffset="-0.08"/>
<path d="M103.12 516.2v-7M103.12 2.0v7M123.73 516.2v-7M123.73 2.0v7M144.34 516.2v-13M144.34 2.0v13M164.96 516.2v-7M164.96 2.0v7M185.57 516.2v-7M185.57 2.0v7M206.19 516.2v-7M206.19 2.0v7M226.81 516.2v-13M226.81 2.0v13M247.42 516.2v-7M247.42 2.0v7M268.03 516.2v-7M268.03 2.0v7M288.65 516.2v-7M288.65 2.0v7M309.26 516.2v-13M309.26 2.0v13M329.88 516.2v-7M329.88 2.0v7M350.50 516.2v-7M350.50 2.0v7M371.11 516.2v-7M371.11 2.0v7M391.73 516.2v-13M391.73 2.0v13M412.34 516.2v-7M412.34 2.0v7M432.96 516.2v-7M432.96 2.0v7M453.57 516.2v-7M453.57 2.0v7M474.19 516.2v-13M474.19 2.0v13M494.80 516.2v-7M494.80 2.0v7M515.41 516.2v-7M515.41 2.0v7M536.03 516.2v-7M536.03 2.0v7M556.64 516.2v-13M556.64 2.0v13M577.26 516.2v-7M577.26 2.0v7M82.6 510.67h7M597.8 510.67h-7M82.6 487.80h13M597.8 487.80h-13M82.6 464.93h7M597.8 464.93h-7M82.6 442.06h7M597.8 442.06h-7M82.6 419.19h7M597.8 419.19h-7M82.6 396.32h7M597.8 396.32h-7M82.6 373.45h13M597.8 373.45h-13M82.6 350.58h7M597.8 350.58h-7M82.6 327.71h7M597.8 327.71h-7M82.6 304.84h7M597.8 304.84h-7M82.6 281.97h7M597.8 281.97h-7M82.6 259.10h13M597.8 259.10h-13M82.6 236.23h7M597.8 236.23h-7M82.6 213.36h7M597.8 213.36h-7M82.6 190.49h7M597.8 190.49h-7M82.6 167.62h7M597.8 167.62h-7M82.6 144.75h13M597.8 144.75h-13M82.6 121.88h7M597.8 121.88h-7M82.6 99.01h7M597.8 99.01h-7M82.6 76.14h7M597.8 76.14h-7M82.6 53.27h7M597.8 53.27h-7M82.6 30.40h13M597.8 30.40h-13M82.6 7.53h7M597.8 7.53h-7" stroke="#262626" stroke-width="1.3" fill="none"/>
<rect x="82.6" y="2.0" width="515.1999999999999" height="514.2" fill="none" stroke="#262626" stroke-width="1.3"/>
<text x="33.05" y="495.00" font-size="21.3" fill="#111" stroke="#fff" stroke-width="0.3" textLength="38.24" lengthAdjust="spacingAndGlyphs">300</text>
<text x="33.66" y="380.65" font-size="21.3" fill="#111" stroke="#fff" stroke-width="0.3" textLength="37.62" lengthAdjust="spacingAndGlyphs">400</text>
<text x="32.74" y="266.30" font-size="21.3" fill="#111" stroke="#fff" stroke-width="0.3" textLength="38.56" lengthAdjust="spacingAndGlyphs">500</text>
<text x="33.05" y="151.95" font-size="21.3" fill="#111" stroke="#fff" stroke-width="0.3" textLength="38.24" lengthAdjust="spacingAndGlyphs">600</text>
<text x="32.42" y="37.60" font-size="21.3" fill="#111" stroke="#fff" stroke-width="0.3" textLength="38.88" lengthAdjust="spacingAndGlyphs">700</text>
<text x="131.53" y="542.00" font-size="21.3" fill="#111" stroke="#fff" stroke-width="0.3" textLength="25.77" lengthAdjust="spacingAndGlyphs">20</text>
<text x="214.61" y="542.00" font-size="21.3" fill="#111" stroke="#fff" stroke-width="0.3" textLength="25.13" lengthAdjust="spacingAndGlyphs">40</text>
<text x="296.45" y="542.00" font-size="21.3" fill="#111" stroke="#fff" stroke-width="0.3" textLength="25.77" lengthAdjust="spacingAndGlyphs">60</text>
<text x="379.23" y="542.00" font-size="21.3" fill="#111" stroke="#fff" stroke-width="0.3" textLength="25.45" lengthAdjust="spacingAndGlyphs">80</text>
<text x="455.65" y="542.00" font-size="21.3" fill="#111" stroke="#fff" stroke-width="0.3" textLength="36.29" lengthAdjust="spacingAndGlyphs">100</text>
<text x="538.11" y="542.00" font-size="21.3" fill="#111" stroke="#fff" stroke-width="0.3" textLength="36.29" lengthAdjust="spacingAndGlyphs">120</text>
<text x="300.67" y="568.25" font-size="21.3" fill="#111" stroke="#fff" stroke-width="0.3" textLength="13.65" lengthAdjust="spacingAndGlyphs">R</text>
<text x="323.60" y="568.25" font-size="21.3" fill="#111" stroke="#fff" stroke-width="0.3" textLength="55.96" lengthAdjust="spacingAndGlyphs">(kpc)</text>
<text x="413.09" y="33.00" font-size="16.0" fill="#dc22dc" stroke="#dc22dc" stroke-width="0.12" textLength="36.31" lengthAdjust="spacingAndGlyphs">HVSs</text>
<text x="413.17" y="53.50" font-size="16.0" fill="#dc22dc" stroke="#dc22dc" stroke-width="0.12" textLength="62.66" lengthAdjust="spacingAndGlyphs">Possible</text>
<text x="483.98" y="53.50" font-size="16.0" fill="#dc22dc" stroke="#dc22dc" stroke-width="0.12" textLength="36.42" lengthAdjust="spacingAndGlyphs">HVSs</text>
<text x="413.17" y="73.75" font-size="16.0" fill="#1c1cd0" stroke="#1c1cd0" stroke-width="0.12" textLength="62.66" lengthAdjust="spacingAndGlyphs">Possible</text>
<text x="484.00" y="73.75" font-size="16.0" fill="#1c1cd0" stroke="#1c1cd0" stroke-width="0.12" textLength="48.14" lengthAdjust="spacingAndGlyphs">Bound</text>
<text x="540.57" y="73.75" font-size="16.0" fill="#1c1cd0" stroke="#1c1cd0" stroke-width="0.12" textLength="37.24" lengthAdjust="spacingAndGlyphs">HVSs</text>
<text x="415.84" y="94.30" font-size="16.0" fill="#d82020" stroke="#d82020" stroke-width="0.12" textLength="55.34" lengthAdjust="spacingAndGlyphs">LAMOST</text>
<text x="472.37" y="94.30" font-size="16.0" fill="#d82020" stroke="#d82020" stroke-width="0.12" textLength="10.69" lengthAdjust="spacingAndGlyphs">−</text>
<text x="484.80" y="94.30" font-size="16.0" fill="#d82020" stroke="#d82020" stroke-width="0.12" textLength="36.46" lengthAdjust="spacingAndGlyphs">HVS1</text>
<text x="410.99" y="417.80" font-size="15.5" fill="#111" stroke="#111" stroke-width="0.12" textLength="53.12" lengthAdjust="spacingAndGlyphs">Gnedin</text>
<text x="466.11" y="417.80" font-size="15.5" fill="#111" stroke="#111" stroke-width="0.12" textLength="11.08" lengthAdjust="spacingAndGlyphs">+</text>
<text x="477.58" y="417.80" font-size="15.5" fill="#111" stroke="#111" stroke-width="0.12" textLength="48.33" lengthAdjust="spacingAndGlyphs">(2010)</text>
<text x="409.69" y="489.80" font-size="15.5" fill="#111" stroke="#111" stroke-width="0.12" textLength="55.62" lengthAdjust="spacingAndGlyphs">Kenyon</text>
<text x="467.94" y="489.80" font-size="15.5" fill="#111" stroke="#111" stroke-width="0.12" textLength="10.17" lengthAdjust="spacingAndGlyphs">+</text>
<text x="479.18" y="489.80" font-size="15.5" fill="#111" stroke="#111" stroke-width="0.12" textLength="48.54" lengthAdjust="spacingAndGlyphs">(2008)</text>
<g transform="translate(16.8,0) rotate(-90)"><text x="-319.65" y="0.00" font-size="21.0" fill="#111" stroke="#fff" stroke-width="0.3" textLength="10.20" lengthAdjust="spacingAndGlyphs">v</text><text x="-307.98" y="6.10" font-size="13.5" fill="#111" textLength="10.18" lengthAdjust="spacingAndGlyphs">rf</text><text x="-286.41" y="0.00" font-size="21.0" fill="#111" stroke="#fff" stroke-width="0.3" textLength="8.13" lengthAdjust="spacingAndGlyphs">(</text><text x="-278.05" y="0.00" font-size="21.0" fill="#111" stroke="#fff" stroke-width="0.3" textLength="32.32" lengthAdjust="spacingAndGlyphs">km</text><text x="-234.73" y="0.00" font-size="21.0" fill="#111" stroke="#fff" stroke-width="0.3" textLength="10.67" lengthAdjust="spacingAndGlyphs">s</text><text x="-223.39" y="-6.80" font-size="13.5" fill="#111" textLength="11.10" lengthAdjust="spacingAndGlyphs">−</text><text x="-212.95" y="-6.80" font-size="13.5" fill="#111" textLength="5.12" lengthAdjust="spacingAndGlyphs">1</text><text x="-206.21" y="0.00" font-size="21.0" fill="#111" stroke="#fff" stroke-width="0.3" textLength="8.00" lengthAdjust="spacingAndGlyphs">)</text></g>
<circle cx="169.2" cy="9.7" r="3.6" fill="#ff00ff"/>
<circle cx="210.3" cy="71.3" r="3.6" fill="#ff00ff"/>
<circle cx="375.3" cy="61.3" r="3.6" fill="#ff00ff"/>
<circle cx="346.3" cy="191.5" r="3.6" fill="#ff00ff"/>
<circle cx="317.5" cy="236.4" r="3.6" fill="#ff00ff"/>
<circle cx="313.3" cy="246.6" r="3.6" fill="#ff00ff"/>
<circle cx="428.6" cy="270.4" r="3.6" fill="#ff00ff"/>
<circle cx="371.1" cy="289.9" r="3.6" fill="#ff00ff"/>
<circle cx="255.8" cy="303.5" r="3.6" fill="#ff00ff"/>
<circle cx="267.9" cy="325.3" r="3.6" fill="#ff00ff"/>
<circle cx="333.9" cy="347.1" r="3.6" fill="#ff00ff"/>
<circle cx="478.3" cy="349.3" r="3.6" fill="#ff00ff"/>
<circle cx="399.8" cy="364.2" r="3.6" fill="#ff00ff"/>
<circle cx="457.4" cy="377.8" r="3.6" fill="#ff00ff"/>
<circle cx="474.1" cy="382.4" r="3.6" fill="#ff00ff"/>
<circle cx="214.4" cy="377.9" r="3.6" fill="#ff00ff"/>
<circle cx="251.6" cy="381.4" r="3.6" fill="#ff00ff"/>
<circle cx="346.5" cy="395" r="3.6" fill="#ff00ff"/>
<path d="M310.1 236.4H324.9M317.5 229V243.1" stroke="#cc33cc" stroke-width="1.0"/>
<circle cx="284.5" cy="427" r="3.55" fill="none" stroke="#c23ad2" stroke-width="1.25"/>
<circle cx="366.9" cy="436.2" r="3.55" fill="none" stroke="#c23ad2" stroke-width="1.25"/>
<circle cx="383.3" cy="462.7" r="3.55" fill="none" stroke="#c23ad2" stroke-width="1.25"/>
<circle cx="325.7" cy="479.8" r="3.55" fill="none" stroke="#c23ad2" stroke-width="1.25"/>
<circle cx="379.5" cy="497.1" r="3.55" fill="none" stroke="#c23ad2" stroke-width="1.25"/>
<path d="M173.40 461.20L176.40 465.45H170.40Z" fill="none" stroke="#2222bb" stroke-width="1.15"/>
<path d="M185.40 474.50L188.40 478.75H182.40Z" fill="none" stroke="#2222bb" stroke-width="1.15"/>
<path d="M189.90 474.50L192.90 478.75H186.90Z" fill="none" stroke="#2222bb" stroke-width="1.15"/>
<path d="M202.10 488.50L205.10 492.75H199.10Z" fill="none" stroke="#2222bb" stroke-width="1.15"/>
<path d="M181.30 493.80L184.30 498.05H178.30Z" fill="none" stroke="#2222bb" stroke-width="1.15"/>
<path d="M165.00 496.60L168.00 500.85H162.00Z" fill="none" stroke="#2222bb" stroke-width="1.15"/>
<path d="M185.40 510.80L188.40 515.05H182.40Z" fill="none" stroke="#2222bb" stroke-width="1.15"/>
<path d="M243.30 440.50L246.30 444.75H240.30Z" fill="none" stroke="#2222bb" stroke-width="1.15"/>
<path d="M226.80 472.40L229.80 476.65H223.80Z" fill="none" stroke="#2222bb" stroke-width="1.15"/>
<path d="M226.80 497.60L229.80 501.85H223.80Z" fill="none" stroke="#2222bb" stroke-width="1.15"/>
<path d="M243.30 496.50L246.30 500.75H240.30Z" fill="none" stroke="#2222bb" stroke-width="1.15"/>
<path d="M247.50 505.90L250.50 510.15H244.50Z" fill="none" stroke="#2222bb" stroke-width="1.15"/>
<path d="M301.00 495.30L304.00 499.55H298.00Z" fill="none" stroke="#2222bb" stroke-width="1.15"/>
<path d="M313.30 498.80L316.30 503.05H310.30Z" fill="none" stroke="#2222bb" stroke-width="1.15"/>
<path d="M342.30 502.30L345.30 506.55H339.30Z" fill="none" stroke="#2222bb" stroke-width="1.15"/>
<path d="M301.00 510.30L304.00 514.55H298.00Z" fill="none" stroke="#2222bb" stroke-width="1.15"/>
<path d="M133.1 285.3H151M133.1 283.1V287.9M151 283.1V287.9M141.8 273.5V297.1M139.4 273.5H144.4M139.4 297.1H144.4" stroke="#d82222" stroke-width="1.6" fill="none"/>
<polygon points="141.80,279.80 143.42,283.58 147.51,283.95 144.42,286.65 145.33,290.65 141.80,288.55 138.27,290.65 139.18,286.65 136.09,283.95 140.18,283.58" fill="#ff0000" stroke="#c80000" stroke-width="0.6" stroke-linejoin="miter"/>
<rect x="391.9" y="18.9" width="188.9" height="79.6" fill="none" stroke="#262626" stroke-width="1.45"/>
<path d="M391.9 99.1H580.8" stroke="#262626" stroke-width="1.0"/>
<circle cx="401.3" cy="28" r="3.8" fill="#ff00ff"/>
<circle cx="401.3" cy="48" r="3.55" fill="none" stroke="#c23ad2" stroke-width="1.25"/>
<path d="M401.3 65.3L404.8 72.2H397.8Z" fill="none" stroke="#2222bb" stroke-width="1.1"/>
<polygon points="401.95,83.40 403.57,87.18 407.66,87.55 404.57,90.25 405.48,94.25 401.95,92.15 398.42,94.25 399.33,90.25 396.24,87.55 400.33,87.18" fill="#ff0000" stroke="#c80000" stroke-width="0.6" stroke-linejoin="miter"/>
</svg></body></html>
